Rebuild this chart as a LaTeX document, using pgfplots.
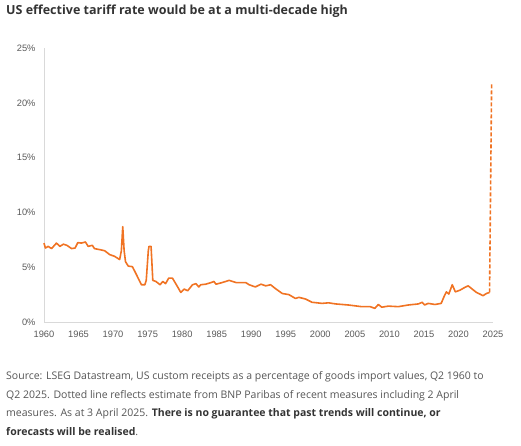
\documentclass[border=0pt]{standalone}
\usepackage{pgfplots}
\pgfplotsset{compat=1.18}
\usepackage{fontspec}
\setmainfont{Open Sans}
\newfontfamily\tickfont{Liberation Sans}
\definecolor{tarifforange}{RGB}{240,115,35}
\definecolor{titlegray}{RGB}{51,51,51}
\definecolor{textgray}{RGB}{85,85,85}
\definecolor{tickgray}{RGB}{89,89,89}
\definecolor{axisgray}{RGB}{217,217,217}
\begin{document}
\begin{tikzpicture}
\path[use as bounding box] (0pt,0pt) rectangle (521pt,-445pt);
\node[anchor=base west, font=\fontsize{12.5}{15}\selectfont\bfseries, text=titlegray, inner sep=0] at (6pt,-14pt) {US effective tariff rate would be at a multi-decade high};
\begin{axis}[at={(44pt,-322pt)}, anchor=south west, width=449pt, height=274pt, scale only axis,
  xmin=1960, xmax=2025, ymin=0, ymax=25,
  axis x line*=bottom, axis y line*=left,
  axis line style={draw=axisgray, line width=0.8pt, -},
  major tick length=0pt,
  /pgf/number format/assume math mode=true,
  tick label style={font=\tickfont\fontsize{9.3}{10}\selectfont, text=tickgray},
  xtick={1960,1965,...,2025},
  ytick={0,5,...,25},
  x tick label style={/pgf/number format/1000 sep={}, yshift=-5pt},
  y tick label style={xshift=-5pt},
  yticklabel={\pgfmathprintnumber{\tick}\%},
  clip=false]
\addplot[tarifforange, line width=1.6pt, line join=round] coordinates {
(1960.0,7.2) (1960.2,6.75) (1960.6,6.9) (1961.1,6.7) (1961.8,7.2) (1962.3,6.9) (1962.8,7.1)
(1963.3,7.0) (1964.0,6.7) (1964.5,6.75) (1964.9,7.25) (1965.4,7.2) (1966.0,7.3) (1966.4,6.9)
(1967.0,7.0) (1967.3,6.7) (1968.1,6.6) (1968.8,6.5) (1969.0,6.4) (1969.5,6.15) (1970.2,6.0)
(1970.95,5.7) (1971.2,6.5) (1971.4,8.7) (1971.6,6.5) (1971.8,5.5) (1972.2,5.1) (1972.8,5.05)
(1973.4,4.3) (1974.1,3.4) (1974.6,3.4) (1974.8,3.8) (1975.1,6.5) (1975.2,6.9) (1975.5,6.9)
(1975.75,3.8) (1976.2,3.7) (1976.8,3.4) (1977.2,3.7) (1977.6,3.5) (1978.05,4.0) (1978.6,4.0)
(1979.35,3.2) (1979.8,2.7) (1980.3,3.0) (1980.8,2.85) (1981.5,3.4) (1982.0,3.5) (1982.4,3.2)
(1982.7,3.4) (1983.4,3.45) (1984.2,3.6) (1984.6,3.7) (1984.9,3.45) (1985.8,3.6) (1986.8,3.8)
(1987.8,3.6) (1989.2,3.6) (1989.7,3.4) (1990.6,3.2) (1991.4,3.45) (1992.1,3.3) (1992.8,3.4)
(1993.5,3.05) (1994.5,2.6) (1995.45,2.5) (1996.4,2.15) (1996.9,2.25) (1997.85,2.1) (1998.8,1.8)
(2000.25,1.7) (2001.2,1.75) (2002.2,1.65) (2004.1,1.55) (2006.0,1.4) (2007.2,1.4) (2007.9,1.25)
(2008.4,1.6) (2008.9,1.35) (2009.85,1.45) (2011.3,1.4) (2012.7,1.55) (2014.2,1.65) (2014.75,1.8)
(2015.1,1.55) (2015.6,1.7) (2016.6,1.6) (2017.5,1.7) (2017.9,2.3) (2018.25,2.75) (2018.6,2.55)
(2019.1,3.4) (2019.55,2.75) (2020.2,2.9) (2020.9,3.15) (2021.4,3.3) (2021.9,3.05) (2022.6,2.7)
(2023.1,2.55) (2023.55,2.4) (2024.05,2.6) (2024.5,2.7)
};
\addplot[tarifforange, line width=1.6pt, dash pattern=on 4pt off 2pt] coordinates {
(2024.5,2.7) (2024.8,21.8)
};
\end{axis}
\begin{scope}[every node/.style={anchor=base west, inner sep=0, font=\fontsize{10.5}{12}\selectfont, text=textgray}]
\node at (6pt,-379.5pt) {Source: LSEG Datastream, US custom receipts as a percentage of goods import values, Q2 1960 to};
\node at (6pt,-398pt) {Q2 2025. Dotted line reflects estimate from BNP Paribas of recent measures including 2 April};
\node at (6pt,-416.5pt) {measures. As at 3 April 2025. \textcolor{titlegray}{\bfseries There is no guarantee that past trends will continue, or}};
\node at (6pt,-435pt) {\textcolor{titlegray}{\bfseries forecasts will be realised}.};
\end{scope}
\end{tikzpicture}
\end{document}
